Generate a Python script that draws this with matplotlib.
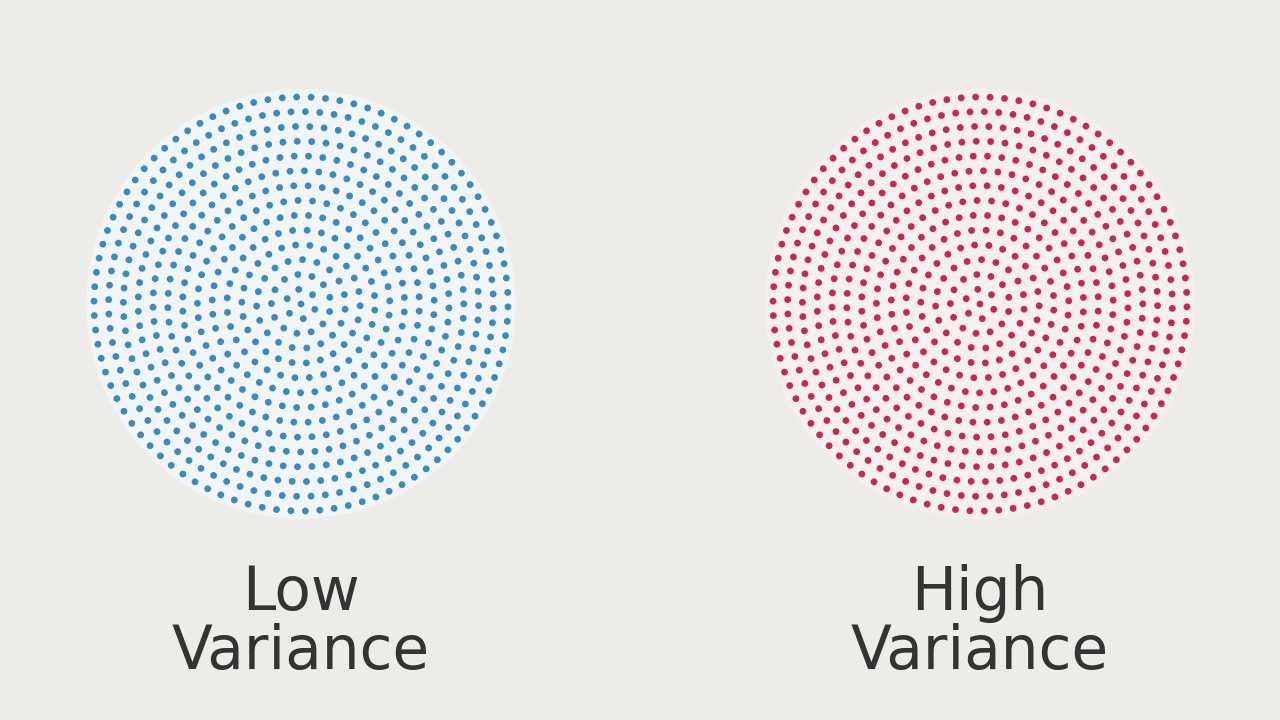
import numpy as np
import matplotlib.pyplot as plt

# ring layout of the dot circles (radius in px, number of dots on ring)
ring_radii = [0, 14.8, 29.6, 44.4, 59.2, 74.0, 88.8, 103.6, 118.4, 133.2, 148.0, 162.8, 177.6, 192.4, 207.0]
ring_counts = [1, 6, 13, 19, 26, 32, 39, 45, 52, 58, 65, 71, 78, 84, 90]

panel_labels = ['Low\nVariance', 'High\nVariance']
panel_centers_x = [301, 980]
panel_center_y = 304
dot_colors = ['#3a8bbb', '#c42a50']
disk_colors = ['#f1f5f8', '#f5f0ef']

fig = plt.figure(figsize=(12.8, 7.2), dpi=100)
fig.patch.set_facecolor('#eeece9')
ax = fig.add_axes([0, 0, 1, 1])
ax.set_facecolor('#eeece9')
ax.set_xlim(0, 1280)
ax.set_ylim(720, 0)
ax.set_aspect('equal')
ax.axis('off')

for cx, label, dcol, bcol in zip(panel_centers_x, panel_labels, dot_colors, disk_colors):
    ax.add_patch(plt.Circle((cx, panel_center_y), 214, color=bcol, zorder=1))
    xs, ys = [], []
    for k, (r, n) in enumerate(zip(ring_radii, ring_counts)):
        ang = np.linspace(0, 2 * np.pi, n, endpoint=False) + k * 0.37
        xs.extend(cx + r * np.cos(ang))
        ys.extend(panel_center_y + r * np.sin(ang))
    ax.scatter(xs, ys, s=24, color=dcol, edgecolors='none', zorder=2)
    top, bottom = label.split('\n')
    ax.text(cx, 610, top, ha='center', va='baseline', fontsize=43,
            family='DejaVu Sans', color='#333333')
    ax.text(cx, 669, bottom, ha='center', va='baseline', fontsize=43,
            family='DejaVu Sans', color='#333333')

fig.savefig('out.png', dpi=100, facecolor=fig.get_facecolor())
